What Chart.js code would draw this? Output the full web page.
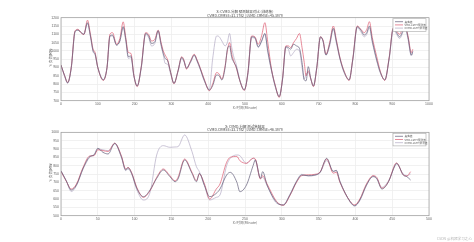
<!DOCTYPE html>
<html>
<head>
<meta charset="utf-8">
<script src="https://cdn.jsdelivr.net/npm/chart.js@4.4.1/dist/chart.umd.min.js"></script>
<style>
  html, body { margin: 0; padding: 0; background: #ffffff; }
  body { width: 474px; height: 242px; position: relative; overflow: hidden; }
  .box { position: absolute; left: 0; width: 474px; height: 121px; }
  #wm { position: absolute; right: 2px; bottom: 1px; font: 3.6px "Noto Sans CJK SC", sans-serif; color: #b5b5b5; }
</style>
</head>
<body>
<div class="box" style="top:0"><canvas id="c1" width="474" height="121"></canvas></div>
<div class="box" style="top:121px"><canvas id="c2" width="474" height="121"></canvas></div>
<div id="wm">CSDN @机器学习之心</div>
<script>
// ---------- data ----------
const seriesNames = ['真实值', 'VMD-LSTM预测值', 'CVMD-LSTM预测值'];

const topTitle = ['X: CVMD-分解 预测结果对比 (训练集)', 'CVMD-CRMSE=21.1782 | LVMD-CRMSE=45.3878'];
const bottomTitle = ['X: CVMD-分解 测试集结果', 'CVMD-CRMSE=23.1782 | LVMD-CRMSE=46.3878'];
const xAxisLabel = 'X: 时间(Minute)';
const yAxisLabel = 'Y: 负荷(MW)';

const topX = [0,10,18,28,38,46,56,62,72,80,88,92,100,115,125,133,140,151,160,169,176,183,190,198,207,218,230,238,246,255,264,272,278,283,290,298,307,318,328,334,341,352,362,370,378,390,403,412,423,430,437,446,452,458,464,470,476,486,498,508,518,527,536,545,554,562,572,582,593,602,611,618,624,632,640,648,655,661,666,672,679,686,695,705,712,720,730,740,748,758,770,783,793,805,815,824,831,838,846,858,868,880,892,903,912,920,927,934,943,952,956];
const topActual = [915,850,808,900,1116,1125,1108,1100,1170,1090,995,985,900,825,900,1090,1095,1035,1060,1146,1070,965,970,850,788,900,1105,1090,1045,1055,1122,1040,985,955,940,870,804,880,961,940,895,935,975,940,895,820,764,790,855,850,825,900,1010,1030,960,930,905,820,764,870,1085,1080,1025,1060,1105,1000,885,790,724,830,1025,1020,1010,1040,1030,1015,930,825,820,905,830,788,900,1085,1060,975,1040,1136,1060,955,870,825,950,1146,1125,1096,1110,1150,1060,945,870,825,960,1136,1110,1085,1110,1156,1080,975,995];
const topModelA = [915,850,810,905,1120,1130,1105,1098,1185,1100,1005,995,900,822,900,1100,1110,1040,1075,1175,1080,990,985,855,785,905,1110,1100,1060,1070,1125,1050,1000,975,945,870,802,880,965,945,890,940,980,945,900,825,760,800,870,860,830,910,1000,1050,980,935,900,820,762,870,1090,1085,1040,1090,1170,1050,890,795,720,835,1030,1030,1020,1050,1075,1105,1020,930,850,880,830,785,895,1085,1065,980,1050,1150,1070,960,875,822,955,1150,1130,1110,1130,1176,1080,965,875,822,965,1140,1120,1100,1130,1160,1090,990,1010];
const topModelB = [910,845,805,900,1110,1125,1110,1102,1165,1085,990,980,900,828,895,1085,1090,1035,1060,1140,1060,955,960,850,790,895,1100,1080,1030,1045,1118,1030,975,925,920,860,806,875,955,935,900,930,972,935,890,815,768,950,1090,1085,1060,1030,1050,1105,1020,960,920,825,768,860,1080,1075,1020,1055,1100,990,880,785,728,825,1020,1010,970,990,1010,1000,900,830,860,870,830,792,900,1080,1060,975,1030,1130,1050,950,865,828,945,1140,1115,1085,1100,1140,1050,940,865,828,955,1130,1100,1075,1100,1150,1070,970,1000];

const bottomX = [0,7,14,21,30,39,45,50,57,64,73,82,88,91,96,103,112,121,130,139,148,155,159,168,178,184,188,195,202,211,216,225,230,239,243,252,261,264,271,274,280,293,302,311,320,327,336,345,352,361,370,374,379,393,399,406,415,424,429,436,445,454,456,465,470,475];
const bottomActual = [768,710,654,684,784,854,864,904,880,870,934,854,774,788,754,664,614,654,724,774,734,704,720,834,754,704,754,680,614,634,660,744,760,700,644,684,800,834,724,764,684,580,564,624,704,744,740,744,760,844,764,772,704,584,560,594,684,734,724,660,704,804,814,744,734,714];
const bottomModelA = [765,708,660,690,790,858,860,895,890,885,935,860,780,790,758,670,610,650,730,780,740,708,730,840,760,710,750,690,600,660,690,820,850,855,830,814,845,840,720,740,690,585,562,620,700,740,745,748,762,840,755,760,700,585,565,600,690,740,730,665,705,810,816,745,738,764];
const bottomModelB = [770,712,645,680,780,850,868,900,895,890,930,850,770,780,750,655,594,640,864,920,910,912,914,984,884,794,764,680,594,610,624,800,844,864,860,814,844,835,724,730,680,575,566,628,708,748,738,742,758,830,768,770,708,580,558,590,680,738,720,670,710,800,810,750,740,750];

const seriesColors = ['#615c78', '#dc5a70', '#b3abc4'];

// ---------- helpers ----------
const FONT = '"Liberation Sans", "Noto Sans CJK SC", sans-serif';
const CJK = '"Noto Sans CJK SC", "Liberation Sans", sans-serif';

function makeDatasets(xs, arrays) {
  return arrays.map((arr, i) => ({
    label: seriesNames[i],
    data: xs.map((x, j) => ({ x: x, y: arr[j] })),
    borderColor: seriesColors[i],
    borderWidth: 0.7,
    pointRadius: 0,
    fill: false,
    cubicInterpolationMode: 'monotone'
  }));
}

const decor = {
  id: 'decor',
  afterDraw(chart, args, o) {
    const { ctx, chartArea: a } = chart;
    ctx.save();
    ctx.strokeStyle = '#9a9a9a';
    ctx.lineWidth = 0.7;
    ctx.strokeRect(a.left, a.top, a.right - a.left, a.bottom - a.top);
    const cx = (a.left + a.right) / 2;
    ctx.fillStyle = '#444';
    ctx.textAlign = 'center';
    ctx.textBaseline = 'middle';
    ctx.font = '3.5px ' + CJK;
    ctx.fillText(o.title[0], cx, a.top - 5.6);
    ctx.fillText(o.title[1], cx, a.top - 2.4);
    ctx.fillStyle = '#666';
    ctx.fillText(xAxisLabel, cx, a.bottom + 7.2);
    ctx.save();
    ctx.translate(a.left - 10, (a.top + a.bottom) / 2 - 2);
    ctx.rotate(-Math.PI / 2);
    ctx.fillText(yAxisLabel, 0, 0);
    ctx.restore();
    // legend
    const lx0 = 393, lx1 = 426;
    const ly0 = a.top + 1, ly1 = a.top + 13.6;
    ctx.fillStyle = '#fff';
    ctx.fillRect(lx0, ly0, lx1 - lx0, ly1 - ly0);
    ctx.strokeStyle = '#a8a8a8';
    ctx.lineWidth = 0.6;
    ctx.strokeRect(lx0, ly0, lx1 - lx0, ly1 - ly0);
    ctx.textAlign = 'left';
    ctx.font = '2.7px ' + CJK;
    chart.data.datasets.forEach((d, i) => {
      const y = a.top + 4 + i * 3.2;
      ctx.strokeStyle = d.borderColor;
      ctx.lineWidth = 0.7;
      ctx.beginPath();
      ctx.moveTo(395, y);
      ctx.lineTo(403, y);
      ctx.stroke();
      ctx.fillStyle = '#555';
      ctx.fillText(d.label, 404.5, y);
    });
    ctx.restore();
  }
};

function makeChart(id, xs, arrays, xMax, xStep, yMin, yMax, padTop, xHeight, title) {
  return new Chart(document.getElementById(id), {
    type: 'line',
    data: { datasets: makeDatasets(xs, arrays) },
    options: {
      responsive: false,
      animation: false,
      events: [],
      layout: { padding: { left: 0, right: 45, top: padTop, bottom: 0 } },
      plugins: { legend: { display: false }, title: { display: false }, tooltip: { enabled: false }, decor: { title: title } },
      scales: {
        x: {
          type: 'linear', min: 0, max: xMax,
          afterFit: s => { s.height = xHeight; },
          grid: { color: '#eeeeee', lineWidth: 0.8, drawTicks: false },
          border: { display: false },
          ticks: { stepSize: xStep, padding: 1.6, color: '#666', font: { size: 3.5, family: FONT }, maxRotation: 0, autoSkip: false, callback: v => String(v) }
        },
        y: {
          min: yMin, max: yMax,
          afterFit: s => { s.width = 61; },
          grid: { color: '#eeeeee', lineWidth: 0.8, drawTicks: false },
          border: { display: false },
          ticks: { stepSize: 50, padding: 2, color: '#666', font: { size: 3.5, family: FONT }, autoSkip: false, callback: v => String(v) }
        }
      }
    },
    plugins: [decor]
  });
}

makeChart('c1', topX, [topActual, topModelA, topModelB], 1000, 100, 700, 1200, 17.7, 20.3, topTitle);
makeChart('c2', bottomX, [bottomActual, bottomModelA, bottomModelB], 500, 50, 500, 1000, 11.3, 26.3, bottomTitle);
</script>
</body>
</html>
